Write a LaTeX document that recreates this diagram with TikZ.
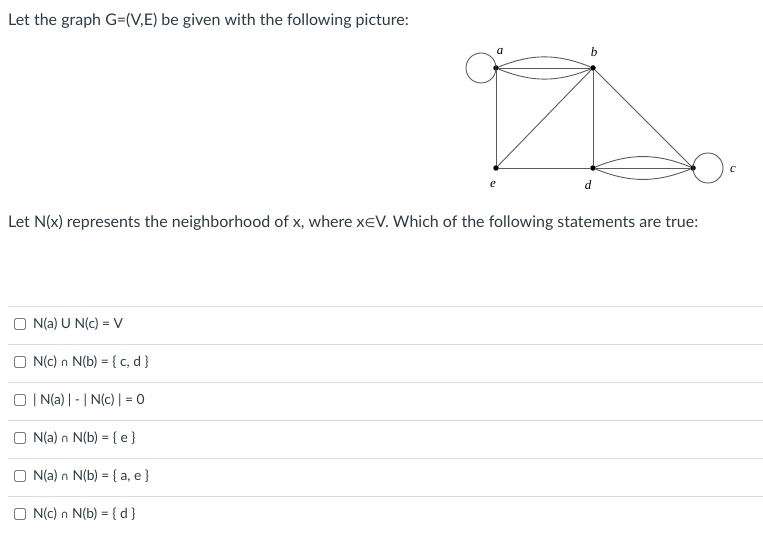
\documentclass[tikz,border=0pt]{standalone}
\usepackage{fontspec}
\setmainfont{Lato}
\newfontfamily\labelfont{Liberation Serif}
\newfontfamily\symfont{DejaVu Sans}
\definecolor{txt}{HTML}{2D3B45}
\definecolor{edgegray}{HTML}{5A5A5A}
\definecolor{rulegray}{HTML}{DCDCDC}

\begin{document}
\begin{tikzpicture}[x=1pt,y=1pt]
      \tikzset{
        vertex/.style={circle,fill=black,inner sep=0pt,minimum size=5.5pt},
        vlabel/.style={font=\labelfont\itshape\fontsize{13}{13}\selectfont,inner sep=0pt},
        link/.style={draw=edgegray,line width=0.9pt},
        stem/.style={font=\fontsize{16}{19}\selectfont,text=txt,anchor=west,inner sep=0pt},
        answer/.style={font=\fontsize{13.8}{16}\selectfont,text=txt,anchor=west,inner sep=0pt},
        tick/.style={draw=edgegray!80,line width=0.8pt,rounded corners=1.5pt,minimum size=11pt,inner sep=0pt},
        sep/.style={draw=rulegray,line width=1pt}
      }
      \useasboundingbox (0,0) rectangle (763,536);

      \node[stem] (q1) at (8,515.5) {Let the graph G=(V,E) be given with the following picture:};
      \node[stem] (q2) at (8,313.5) {Let N(x) represents the neighborhood of x, where x{\symfont\fontsize{12.5}{12.5}\selectfont∈}V. Which of the following statements are true:};

      % the graph
      \node[vertex] (a) at (496,468) {};
      \node[vertex] (b) at (593,468) {};
      \node[vertex] (e) at (496,368) {};
      \node[vertex] (d) at (593,368) {};
      \node[vertex] (c) at (693,368) {};

      \node[vlabel] (la) at (500,484) {a};
      \node[vlabel] (lb) at (594,484) {b};
      \node[vlabel] (le) at (493,351) {e};
      \node[vlabel] (ld) at (588,351) {d};
      \node[vlabel] (lc) at (733,366) {c};

      \draw[link] (a) edge[] (b)
            (a) edge[bend left=22] (b)
            (a) edge[bend right=22] (b)
            (a) edge[] (e)
            (e) edge[] (b)
            (b) edge[] (d)
            (b) edge[] (c)
            (e) edge[] (d)
            (d) edge[] (c)
            (d) edge[bend left=22] (c)
            (d) edge[bend right=22] (c);
      \draw[link] (a.center) arc[start angle=0,end angle=360,radius=15];
      \draw[link] (c.center) arc[start angle=180,end angle=-180,radius=15];

      % the answers
      \draw[sep] (8,229.5) -- (763,229.5);
      \draw[sep] (8,191.5) -- (763,191.5);
      \draw[sep] (8,153.5) -- (763,153.5);
      \draw[sep] (8,115.5) -- (763,115.5);
      \draw[sep] (8,77.5) -- (763,77.5);
      \draw[sep] (8,39.5) -- (763,39.5);

      \node[tick] (box1) at (20,212) {};
      \node[tick] (box2) at (20,174) {};
      \node[tick] (box3) at (20,136) {};
      \node[tick] (box4) at (20,98) {};
      \node[tick] (box5) at (20,60) {};
      \node[tick] (box6) at (20,22) {};

      \node[answer] (opt1) at (33,212) {N(a) U N(c) = V};
      \node[answer] (opt2) at (33,174) {N(c) {\symfont\fontsize{11}{11}\selectfont∩} N(b) = \{ c, d \}};
      \node[answer] (opt3) at (33,136) {| N(a) | - | N(c) | = 0};
      \node[answer] (opt4) at (33,98) {N(a) {\symfont\fontsize{11}{11}\selectfont∩} N(b) = \{ e \}};
      \node[answer] (opt5) at (33,60) {N(a) {\symfont\fontsize{11}{11}\selectfont∩} N(b) = \{ a, e \}};
      \node[answer] (opt6) at (33,22) {N(c) {\symfont\fontsize{11}{11}\selectfont∩} N(b) = \{ d \}};
    \end{tikzpicture}
\end{document}
